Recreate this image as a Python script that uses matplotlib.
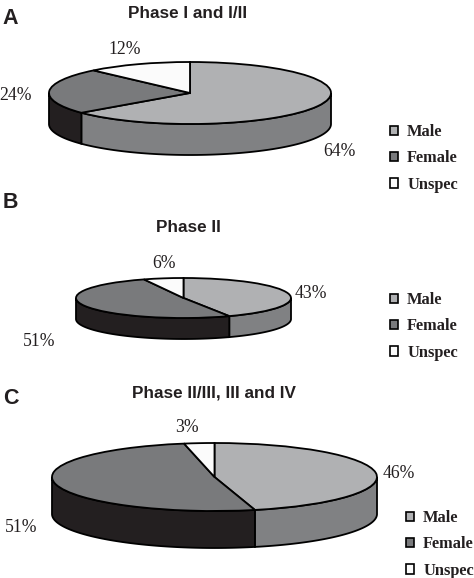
import numpy as np
from matplotlib import pyplot as plt
from matplotlib.patches import Patch, Polygon

W, H = 474, 578

categories = ['Male', 'Female', 'Unspec']
panels = ['A', 'B', 'C']
titles = ['Phase I and I/II', 'Phase II', 'Phase II/III, III and IV']
phase_a = [64, 24, 12]
phase_b = [43, 51, 6]
phase_c = [46, 51, 3]

top_colors = ['#b0b1b3', '#797a7c', '#fbfbfb']
side_colors = ['#808183', '#231f20', '#ffffff']
ink = '#231f20'

# pixel layout of each pie: centre x, centre y, half width, half height, depth
pies = [(190, 93, 141, 31, 31), (183.5, 298, 107.5, 20, 21), (214.5, 477, 162.5, 34, 37)]
panel_pos = [(2, 18), (3, 202), (3, 399)]
title_pos = [(188, 14), (188, 227), (214, 393)]
pct_pos = [[(339, 152), (16, 95), (125, 50)],
           [(311, 294), (39, 341), (164, 264)],
           [(399, 474), (21, 527), (187, 428)]]
legend_pos = [(390, 124), (390, 292), (406, 510)]


def fx(x):
    return x / W


def fy(y):
    return 1 - y / H


fig = plt.figure(figsize=(W / 100, H / 100), dpi=100)
handles = [Patch(facecolor=c, edgecolor='black', linewidth=1.2) for c in top_colors]

for i, values in enumerate([phase_a, phase_b, phase_c]):
    cx, cy, a, b, depth = pies[i]
    # axes box is placed so one data unit is a px across and b px down
    ax = fig.add_axes([fx(cx - a), fy(cy + b), 2 * a / W, 2 * b / H])
    wedges, _ = ax.pie(values, colors=top_colors, startangle=90, counterclock=False,
                       wedgeprops={'edgecolor': 'black', 'linewidth': 1.3, 'zorder': 3})
    ax.set_aspect('auto')
    ax.set_xlim(-1, 1)
    ax.set_ylim(-1, 1)
    for w in wedges:
        w.set_clip_on(False)

    # side wall, only the front half of the rim shows
    drop = depth / b
    for w, col in zip(wedges, side_colors):
        t1 = max(w.theta1, -180)
        t2 = min(w.theta2, 0)
        if t2 <= t1:
            continue
        t = np.radians(np.linspace(t1, t2, 80))
        x = np.cos(t)
        y = np.sin(t)
        pts = np.column_stack([np.r_[x, x[::-1]], np.r_[y, y[::-1] - drop]])
        ax.add_patch(Polygon(pts, closed=True, facecolor=col, edgecolor='black',
                             linewidth=1.3, clip_on=False, zorder=1))

    fig.text(fx(panel_pos[i][0]), fy(panel_pos[i][1]), panels[i], family='Liberation Sans',
             weight='bold', fontsize=15.5, color=ink, ha='left', va='center')
    fig.text(fx(title_pos[i][0]), fy(title_pos[i][1]), titles[i], family='Liberation Sans',
             weight='bold', fontsize=12.3, color=ink, ha='center', va='center')
    for v, (px, py) in zip(values, pct_pos[i]):
        fig.text(fx(px), fy(py), f'{v}%', family='Liberation Serif', fontsize=12.7,
                 color=ink, ha='center', va='center')

    leg = fig.legend(handles, categories, loc='upper left',
                     bbox_to_anchor=(fx(legend_pos[i][0]), fy(legend_pos[i][1])),
                     frameon=False, borderpad=0, borderaxespad=0,
                     handlelength=0.5, handleheight=0.5, handletextpad=0.55,
                     labelspacing=0.63, prop={'family': 'Liberation Serif', 'weight': 'bold', 'size': 11.8})
    for txt in leg.get_texts():
        txt.set_color(ink)

fig.savefig('out.png', dpi=100)
